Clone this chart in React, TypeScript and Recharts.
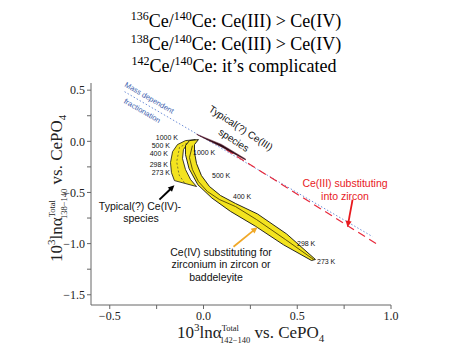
import { ComposedChart, Scatter, XAxis, YAxis } from "recharts";

// band outlines (x = 142/140, y = 138/140)
const zirconBand = [
  { x: -0.027, y: 0.017 }, { x: -0.048, y: -0.032 }, { x: -0.048, y: -0.11 },
  { x: -0.037, y: -0.218 }, { x: -0.011, y: -0.335 }, { x: 0.032, y: -0.442 },
  { x: 0.091, y: -0.53 }, { x: 0.171, y: -0.608 }, { x: 0.288, y: -0.71 },
  { x: 0.443, y: -0.905 }, { x: 0.597, y: -1.155 }, { x: 0.576, y: -1.165 },
  { x: 0.427, y: -1.012 }, { x: 0.277, y: -0.83 }, { x: 0.144, y: -0.685 },
  { x: 0.045, y: -0.555 }, { x: -0.03, y: -0.425 }, { x: -0.077, y: -0.267 },
  { x: -0.096, y: -0.13 }, { x: -0.096, y: -0.042 }, { x: -0.075, y: 0.007 },
];
const zirconCore = [
  { x: -0.059, y: -0.042 }, { x: -0.075, y: -0.159 }, { x: -0.059, y: -0.276 },
  { x: -0.027, y: -0.394 }, { x: 0.021, y: -0.491 }, { x: 0.085, y: -0.569 },
  { x: 0.171, y: -0.638 }, { x: 0.283, y: -0.765 }, { x: 0.437, y: -0.96 },
  { x: 0.587, y: -1.155 },
];
const ce4Band = [
  { x: -0.043, y: 0.017 }, { x: -0.096, y: 0.007 }, { x: -0.139, y: -0.032 },
  { x: -0.165, y: -0.101 }, { x: -0.176, y: -0.208 }, { x: -0.171, y: -0.306 },
  { x: -0.155, y: -0.384 }, { x: -0.037, y: -0.442 }, { x: -0.069, y: -0.374 },
  { x: -0.096, y: -0.276 }, { x: -0.112, y: -0.169 }, { x: -0.107, y: -0.081 },
  { x: -0.085, y: -0.022 },
];
const ce4Core = [
  { x: -0.07, y: 0.0 }, { x: -0.128, y: -0.06 }, { x: -0.143, y: -0.2 },
  { x: -0.13, y: -0.33 }, { x: -0.1, y: -0.41 },
];
const ce3Wedge = [
  { x: -0.037, y: 0.07 }, { x: 0.096, y: -0.03 }, { x: 0.224, y: -0.172 },
  { x: 0.224, y: -0.182 }, { x: 0.096, y: -0.055 }, { x: -0.027, y: 0.058 },
];
const massLine = [{ x: -0.421, y: 0.485 }, { x: 0.901, y: -0.931 }];
const zirconCe3Line = [{ x: 0.12, y: -0.08 }, { x: 0.93, y: -1.01 }];
const arrowCe4 = [{ x: -0.235, y: -0.57 }, { x: -0.155, y: -0.43 }];
const arrowCe3 = [{ x: 0.795, y: -0.57 }, { x: 0.768, y: -0.84 }];
const arrowZr = [{ x: 0.16, y: -1.03 }, { x: 0.288, y: -0.84 }];

const xTicks = [-0.5, -0.25, 0, 0.25, 0.5, 0.75, 1];
const yTicks = [-1.5, -1.25, -1, -0.75, -0.5, -0.25, 0, 0.25, 0.5];

const serif = "'Liberation Serif', 'Times New Roman', serif";
const sans = "'Liberation Sans', Arial, sans-serif";

const fmt = (v: number) =>
  Math.abs(v * 2 - Math.round(v * 2)) > 1e-6 ? "" : v.toFixed(1).replace("-", "\u2212");

const toPath = (pts: any[], close: boolean) =>
  pts.map((q, i) => `${i ? "L" : "M"}${q.x},${q.y}`).join(" ") + (close ? " Z" : "");

const shape = (fill: string, stroke: string, width: number, close = true, dash?: string) =>
  (p: any) => (
    <path
      d={toPath(p.points, close)}
      fill={fill}
      stroke={stroke}
      strokeWidth={width}
      strokeDasharray={dash}
      strokeLinejoin="round"
    />
  );

const arrow = (color: string, width: number) => (p: any) => {
  const [a, b] = p.points;
  const ang = Math.atan2(b.y - a.y, b.x - a.x);
  const len = 7;
  const spread = 0.45;
  const l = { x: b.x - len * Math.cos(ang - spread), y: b.y - len * Math.sin(ang - spread) };
  const r = { x: b.x - len * Math.cos(ang + spread), y: b.y - len * Math.sin(ang + spread) };
  const stop = { x: b.x - 5 * Math.cos(ang), y: b.y - 5 * Math.sin(ang) };
  return (
    <g>
      <line x1={a.x} y1={a.y} x2={stop.x} y2={stop.y} stroke={color} strokeWidth={width} />
      <path d={`M${b.x},${b.y} L${l.x},${l.y} L${r.x},${r.y} Z`} fill={color} />
    </g>
  );
};

const noDot = () => <g />;

function Temps() {
  const t = { fontFamily: sans, fontSize: 7, fill: "#111" };
  return (
    <g>
      <text {...t} x={178} y={140} textAnchor="end">1000 K</text>
      <text {...t} x={170} y={148} textAnchor="end">500 K</text>
      <text {...t} x={168} y={156} textAnchor="end">400 K</text>
      <text {...t} x={168} y={167} textAnchor="end">298 K</text>
      <text {...t} x={170} y={175} textAnchor="end">273 K</text>
      <text {...t} x={193} y={155}>1000 K</text>
      <text {...t} x={212} y={178}>500 K</text>
      <text {...t} x={233} y={199}>400 K</text>
      <text {...t} x={297} y={246}>298 K</text>
      <text {...t} x={317} y={264}>273 K</text>
    </g>
  );
}

export default function App() {
  return (
    <div style={{ position: "absolute", left: 0, top: 0, width: 474, height: 355, background: "#fff" }}>
      <ComposedChart width={474} height={355} margin={{ top: 83, right: 83, bottom: 20, left: 51 }}>
        <XAxis
          type="number"
          dataKey="x"
          domain={[-0.6, 1.0]}
          ticks={xTicks}
          allowDataOverflow
          height={30}
          tickFormatter={fmt}
          tickSize={4}
          stroke="#666"
          tick={{ fill: "#222", fontSize: 12, fontFamily: serif }}
        />
        <YAxis
          type="number"
          dataKey="y"
          domain={[-1.6, 0.57]}
          ticks={yTicks}
          allowDataOverflow
          width={40}
          tickFormatter={fmt}
          tickSize={4}
          stroke="#666"
          tick={{ fill: "#222", fontSize: 12, fontFamily: serif }}
        />
        <Scatter data={massLine} isAnimationActive={false} shape={noDot} line={shape("none", "#6f8fd8", 1, false, "1.5 2")} />
        <Scatter data={zirconCe3Line} isAnimationActive={false} shape={noDot} line={shape("none", "#e8283a", 1.2, false, "8 5")} />
        <Scatter data={ce4Band} isAnimationActive={false} shape={noDot} line={shape("#f3e31f", "#111", 0.8)} />
        <Scatter data={ce4Core} isAnimationActive={false} shape={noDot} line={shape("none", "#333", 0.6, false, "2 2")} />
        <Scatter data={zirconBand} isAnimationActive={false} shape={noDot} line={shape("#f3e31f", "#111", 0.9)} />
        <Scatter data={zirconCore} isAnimationActive={false} shape={noDot} line={shape("none", "#3a3000", 0.8, false)} />
        <Scatter data={ce3Wedge} isAnimationActive={false} shape={noDot} line={shape("#2b0c16", "#5a1028", 0.5)} />
        <Scatter data={arrowCe4} isAnimationActive={false} shape={noDot} line={arrow("#000", 2)} />
        <Scatter data={arrowCe3} isAnimationActive={false} shape={noDot} line={arrow("#e8191e", 1.8)} />
        <Scatter data={arrowZr} isAnimationActive={false} shape={noDot} line={arrow("#f0a828", 1.8)} />
      </ComposedChart>
      <svg width={474} height={355} style={{ position: "absolute", left: 0, top: 0, pointerEvents: "none" }}>
        <g fontFamily={serif} fontSize={18} fill="#000" textAnchor="middle">
          <text x={236} y={27}>
            <tspan fontSize={12} dy={-7}>136</tspan>
            <tspan dy={7}>Ce/</tspan>
            <tspan fontSize={12} dy={-7}>140</tspan>
            <tspan dy={7}>Ce: Ce(III) &gt; Ce(IV)</tspan>
          </text>
          <text x={236} y={50}>
            <tspan fontSize={12} dy={-7}>138</tspan>
            <tspan dy={7}>Ce/</tspan>
            <tspan fontSize={12} dy={-7}>140</tspan>
            <tspan dy={7}>Ce: Ce(III) &gt; Ce(IV)</tspan>
          </text>
          <text x={234} y={72}>
            <tspan fontSize={12} dy={-7}>142</tspan>
            <tspan dy={7}>Ce/</tspan>
            <tspan fontSize={12} dy={-7}>140</tspan>
            <tspan dy={7}>Ce: it’s complicated</tspan>
          </text>
        </g>
        <g fontFamily={serif} fill="#222">
          <text x={177} y={338} fontSize={17}>
            10<tspan fontSize={11} dy={-7}>3</tspan>
            <tspan dy={7}>lnα</tspan>
            <tspan fontSize={8.5} dy={-7}>Total</tspan>
            <tspan fontSize={8.5} dx={-19} dy={12}>142−140</tspan>
            <tspan dy={-5}> vs. CePO</tspan>
            <tspan fontSize={11} dy={4}>4</tspan>
          </text>
          <text x={0} y={0} fontSize={17} transform="translate(62,262) rotate(-90)">
            10<tspan fontSize={11} dy={-7}>3</tspan>
            <tspan dy={7}>lnα</tspan>
            <tspan fontSize={8.5} dy={-7}>Total</tspan>
            <tspan fontSize={8.5} dx={-19} dy={12}>138−140</tspan>
            <tspan dy={-5}> vs. CePO</tspan>
            <tspan fontSize={11} dy={4}>4</tspan>
          </text>
        </g>
        <g fontFamily={sans}>
          <g fontSize={7.5} fill="#3e5fae" textAnchor="middle">
            <text transform="translate(148,100) rotate(30)">Mass dependent</text>
            <text transform="translate(141,113) rotate(30)">fractionation</text>
          </g>
          <g fontSize={10} fill="#111" textAnchor="middle">
            <text transform="translate(239,131) rotate(33)">Typical(?) Ce(III)</text>
            <text transform="translate(232,143) rotate(33)">species</text>
          </g>
          <g fontSize={10.5} fill="#111" textAnchor="middle">
            <text x={140} y={210}>Typical(?) Ce(IV)-</text>
            <text x={141} y={222}>species</text>
            <text x={221} y={256}>Ce(IV) substituting for</text>
            <text x={221} y={268}>zirconium in zircon or</text>
            <text x={216} y={281}>baddeleyite</text>
          </g>
          <g fontSize={10.5} fill="#e8191e" textAnchor="middle">
            <text x={345} y={187}>Ce(III) substituting</text>
            <text x={345} y={200}>into zircon</text>
          </g>
          <Temps />
        </g>
      </svg>
    </div>
  );
}
